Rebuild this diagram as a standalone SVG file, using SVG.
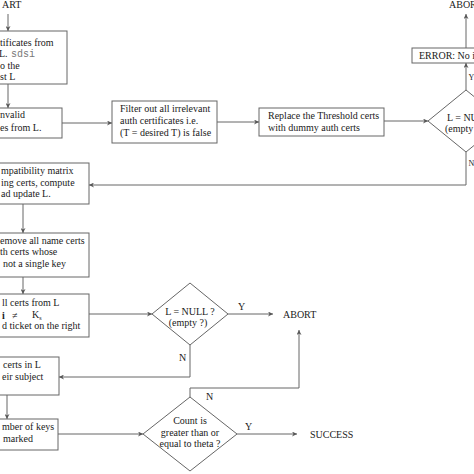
<svg xmlns="http://www.w3.org/2000/svg" width="474" height="474" viewBox="0 0 474 474">
<defs>
<marker id="ah" viewBox="0 0 10 10" refX="10" refY="5" markerWidth="8" markerHeight="5" markerUnits="userSpaceOnUse" orient="auto">
<path d="M0,0 L10,5 L0,10 L3,5 z" fill="#555"/>
</marker>
<style>
text{font-family:"Liberation Serif","Times New Roman",serif;font-size:10px;fill:#1a1a1a}
.box{fill:#fff;stroke:#666;stroke-width:1}
.c{fill:none;stroke:#666;stroke-width:1;marker-end:url(#ah)}
.mid{text-anchor:middle}
.mono{font-family:"Liberation Mono","Courier New",monospace;fill:#777}
.sm{font-size:8px}
</style>
</defs>
<rect width="474" height="474" fill="#fff"/>
<g id="connectors">
<path class="c" d="M8,14 V31"/>
<path class="c" d="M8,84 V108"/>
<path class="c" d="M62,123 H112"/>
<path class="c" d="M217,122 H259"/>
<path class="c" d="M384,121 H428"/>
<path class="c" d="M466,90 V63"/>
<path class="c" d="M466,48 V14"/>
<path class="c" d="M466,152 V185 H89"/>
<path class="c" d="M23,204 V233"/>
<path class="c" d="M23,277 V294"/>
<path class="c" d="M89,314 H152"/>
<path class="c" d="M228,314 H273"/>
<path class="c" d="M190,345 V377 H59"/>
<path class="c" d="M7,395 V419"/>
<path class="c" d="M58,434 H143"/>
<path class="c" d="M190,397 V388 H299 V330"/>
<path class="c" d="M237,434 H297"/>
<text class="sm" x="468.5" y="80">Y</text>
<text class="sm" x="468.5" y="166">N</text>
<text x="238" y="310">Y</text>
<text x="179" y="361">N</text>
<text x="206" y="400">N</text>
<text x="245" y="430">Y</text>
</g>
<g id="start"><text x="2" y="8">ART</text></g>
<g id="box1">
<rect class="box" x="-5" y="31" width="72" height="53"/>
<text x="0" y="46">tificates from</text>
<text x="-1" y="57">L.</text><text class="mono" x="11" y="57">sdsi</text>
<text x="0" y="69">o the</text>
<text x="0" y="80">st L</text>
</g>
<g id="box2">
<rect class="box" x="-5" y="108" width="67" height="30"/>
<text x="0" y="118">nvalid</text>
<text x="0" y="131">es from L.</text>
</g>
<g id="filter">
<rect class="box" x="112" y="101" width="105" height="42"/>
<text x="120" y="112">Filter out all irrelevant</text>
<text x="120" y="124">auth certificates i.e.</text>
<text x="120" y="136">(T = desired T) is false</text>
</g>
<g id="replace">
<rect class="box" x="259" y="108" width="125" height="28"/>
<text x="268" y="119">Replace the Threshold certs</text>
<text x="268" y="131">with dummy auth certs</text>
</g>
<g id="decision1">
<polygon class="box" points="428,121 466,90 504,121 466,152"/>
<text x="447" y="121">L = NULL ?</text>
<text x="445" y="132">(empty ?)</text>
</g>
<g id="error">
<rect class="box" x="412" y="48" width="80" height="15"/>
<text x="419" y="59" font-size="9.6">ERROR: No in</text>
</g>
<g id="abort1"><text x="449" y="8">ABORT</text></g>
<g id="box3">
<rect class="box" x="-5" y="163" width="94" height="41"/>
<text x="1" y="174">mpatibility matrix</text>
<text x="1" y="186">ing certs, compute</text>
<text x="1" y="197">ad update L.</text>
</g>
<g id="box4">
<rect class="box" x="-5" y="233" width="94" height="44"/>
<text x="0" y="244">emove all name certs</text>
<text x="0" y="255">th certs whose</text>
<text x="3" y="267">not a single key</text>
</g>
<g id="box5">
<rect class="box" x="-5" y="294" width="94" height="43"/>
<text x="2" y="306">ll certs from L</text>
<text x="2" y="319" font-size="7" font-weight="bold">i</text>
<text x="12" y="319" font-size="13">≠</text>
<text x="32" y="318">K<tspan font-size="6" dy="2">s</tspan></text>
<text x="2" y="329">d ticket on the right</text>
</g>
<g id="decision2">
<polygon class="box" points="152,314 190,283 228,314 190,345"/>
<text class="mid" x="190" y="315">L = NULL ?</text>
<text class="mid" x="188" y="326">(empty ?)</text>
</g>
<g id="abort2"><text x="283" y="318">ABORT</text></g>
<g id="box6">
<rect class="box" x="-5" y="357" width="64" height="38"/>
<text x="3" y="368">certs in L</text>
<text x="2" y="380">eir subject</text>
</g>
<g id="box7">
<rect class="box" x="-5" y="419" width="63" height="31"/>
<text x="2" y="430">mber of keys</text>
<text x="3" y="442">marked</text>
</g>
<g id="decision3">
<polygon class="box" points="143,434 190,397 237,434 190,471"/>
<text class="mid" x="190" y="424">Count is</text>
<text class="mid" x="190" y="436">greater than or</text>
<text class="mid" x="190" y="447">equal to theta ?</text>
</g>
<g id="success"><text x="310" y="438">SUCCESS</text></g>
</svg>
